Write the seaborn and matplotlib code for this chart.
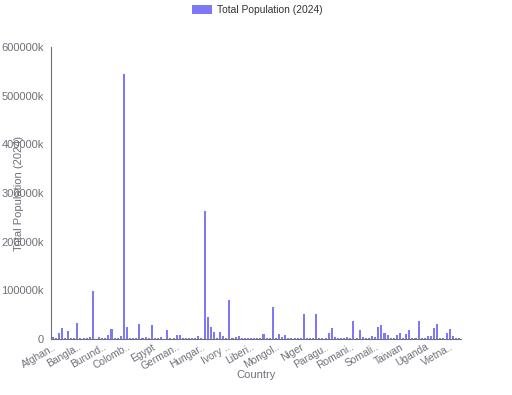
import matplotlib
matplotlib.use("Agg")
import matplotlib.pyplot as plt
import seaborn as sns
import pandas as pd
from matplotlib.patches import Patch

countries = [
    "Afghanistan", "Albania", "Algeria", "Argentina", "Armenia", "Australia", "Austria", "Azerbaijan",
    "Bangladesh", "Belarus", "Belgium", "Benin", "Bolivia", "Brazil", "Bulgaria", "Burkina Faso",
    "Burundi", "Cambodia", "Cameroon", "Canada", "Central African Republic", "Chad", "Chile", "China",
    "Colombia", "Congo", "Costa Rica", "Cuba", "DR Congo", "Denmark", "Dominican Republic", "Ecuador",
    "Egypt", "El Salvador", "Eritrea", "Estonia", "Eswatini", "Ethiopia", "Finland", "France",
    "Germany", "Ghana", "Greece", "Guatemala", "Guinea", "Haiti", "Honduras", "Hong Kong",
    "Hungary", "India", "Indonesia", "Iran", "Iraq", "Ireland", "Israel", "Italy",
    "Ivory Coast", "Japan", "Jordan", "Kazakhstan", "Kenya", "Kuwait", "Kyrgyzstan", "Laos",
    "Liberia", "Libya", "Lithuania", "Madagascar", "Malaysia", "Mali", "Mauritania", "Mexico",
    "Mongolia", "Morocco", "Mozambique", "Myanmar", "Namibia", "Nepal", "Netherlands", "New Zealand",
    "Niger", "Nigeria", "North Korea", "Norway", "Oman", "Pakistan", "Panama", "Papua New Guinea",
    "Paraguay", "Peru", "Philippines", "Poland", "Portugal", "Puerto Rico", "Qatar", "Reunion",
    "Romania", "Russia", "Rwanda", "Saudi Arabia", "Senegal", "Serbia", "Sierra Leone", "Singapore",
    "Somalia", "South Africa", "South Korea", "Spain", "Sri Lanka", "Sudan", "Sweden", "Syria",
    "Taiwan", "Tajikistan", "Tanzania", "Thailand", "Togo", "Tunisia", "Turkey", "Turkmenistan",
    "Uganda", "Ukraine", "United Arab Emirates", "United Kingdom", "United States", "Uruguay", "Uzbekistan", "Venezuela",
    "Vietnam", "Yemen", "Zambia", "Zimbabwe",
]

# population in thousands
population_k = [
    3400, 3000, 13000, 22000, 1500, 16500, 2000, 1500,
    32000, 1500, 1200, 1500, 4700, 98000, 1000, 3400,
    1500, 1200, 8000, 20000, 1500, 1200, 6000, 545000,
    24000, 1500, 1200, 1500, 30000, 3000, 3400, 1500,
    29000, 1500, 1200, 4700, 1000, 18500, 1500, 1200,
    8000, 8000, 2700, 2700, 2200, 2200, 2500, 5500,
    2000, 262000, 46000, 24000, 15000, 3000, 14000, 6000,
    1500, 81000, 2000, 5000, 7000, 1500, 2000, 1500,
    2000, 1500, 1500, 2500, 10000, 3000, 1500, 66000,
    1500, 10000, 4000, 8000, 1500, 1500, 1500, 1200,
    1500, 51000, 2000, 1200, 1500, 51000, 1500, 1200,
    1500, 11600, 22000, 4000, 3000, 1500, 1200, 3400,
    1500, 36000, 1500, 18500, 3400, 1500, 1200, 6000,
    3400, 25000, 29000, 13000, 8000, 1500, 1200, 8000,
    13000, 1500, 10000, 18500, 1500, 1200, 37000, 1200,
    2700, 6000, 6000, 23000, 30000, 1500, 1500, 12000,
    20500, 6000, 3000, 1500,
]

y_ticks = [0, 100000, 200000, 300000, 400000, 500000, 600000]
series_name = "Total Population (2024)"

df = pd.DataFrame({"Country": countries, "Population": population_k})

sns.set_theme(style="white")
plt.rcParams["font.family"] = ["Liberation Sans", "DejaVu Sans"]

BAR = "#7d78f6"
GRAY = "#6e7079"

fig = plt.figure(figsize=(5.12, 3.95), dpi=100)
ax = fig.add_axes([51 / 512, 1 - 339 / 395, 409.5 / 512, 292 / 395])

sns.barplot(data=df, x="Country", y="Population", order=countries, color=BAR,
            saturation=1, width=0.66, ax=ax, edgecolor="none")

n = len(countries)
ax.set_xlim(-0.5, n - 0.5)
ax.set_ylim(0, 600000)

ax.set_yticks(y_ticks)
ax.set_yticklabels([("0" if v == 0 else f"{v}k") for v in y_ticks], color=GRAY, fontsize=8)
ax.tick_params(axis="y", length=0, pad=5)

label_pos = list(range(0, n, 8))
def short(s):
    return s if len(s) <= 6 else s[:6] + ".."
ax.set_xticks(label_pos)
ax.set_xticklabels([short(countries[i]) for i in label_pos], rotation=30, ha="right",
                   rotation_mode="anchor", color=GRAY, fontsize=7.4)
ax.tick_params(axis="x", which="major", length=0, pad=2)
minor = [p - 0.5 for p in label_pos] + [n - 0.5]
ax.set_xticks(minor, minor=True)
ax.tick_params(axis="x", which="minor", length=4, color=GRAY, width=0.8, direction="out")

for s in ["top", "right"]:
    ax.spines[s].set_visible(False)
for s in ["left", "bottom"]:
    ax.spines[s].set_color(GRAY)
    ax.spines[s].set_linewidth(0.8)

ax.grid(False)
ax.set_xlabel("Country", color=GRAY, fontsize=8)
ax.xaxis.set_label_coords(0.5, -(375 - 339) / 292, transform=ax.transAxes)
ax.xaxis.label.set_va("center")
ax.set_ylabel("")
fig.text(19 / 512, 1 - 193 / 395, "Total Population (2024)", rotation=90, color=GRAY,
         fontsize=8, ha="center", va="center")

fig.legend(handles=[Patch(facecolor=BAR, edgecolor="none", label=series_name)],
           loc="upper center", bbox_to_anchor=(0.503, 1.012), frameon=False, fontsize=7.4,
           handlelength=1.9, handleheight=1.0, handletextpad=0.5, labelcolor="#333333")

fig.savefig("out.png", dpi=100)
